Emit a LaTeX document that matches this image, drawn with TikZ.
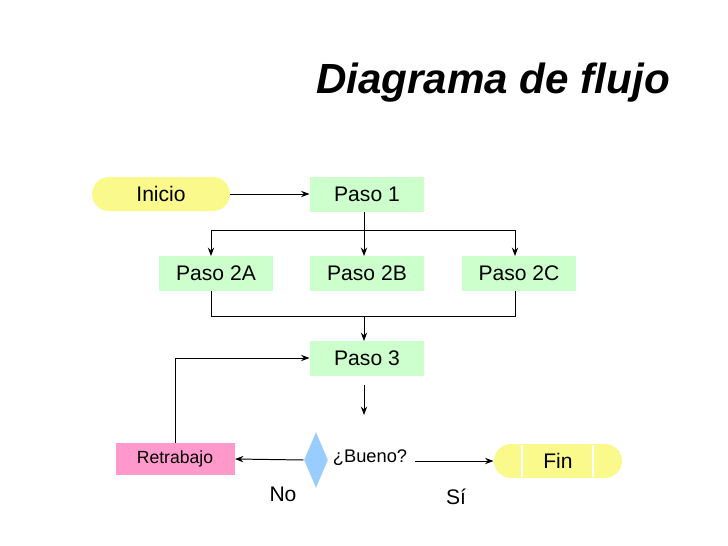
\documentclass[tikz,border=0pt]{standalone}
\usepackage{fontspec}
\setmainfont{Liberation Sans}
\usetikzlibrary{shapes.geometric,arrows.meta}
\definecolor{pill}{HTML}{FAFA8C}
\definecolor{step}{HTML}{CCFFCC}
\definecolor{rework}{HTML}{FF99CC}
\definecolor{ask}{HTML}{99CCFF}
\newlength{\px}
\setlength{\px}{0.05cm}
\tikzset{
  paso/.style={fill=step,minimum width=114\px,minimum height=35\px,inner sep=0pt,font=\fontsize{30}{34}\selectfont},
  terminal/.style={fill=pill,rounded corners=17\px,minimum width=138\px,minimum height=34\px,inner sep=0pt,font=\fontsize{30}{34}\selectfont},
  flecha/.style={-{Stealth[length=12pt,width=9pt]}},
}
\begin{document}
\begin{tikzpicture}[x=0.05cm,y=-0.05cm,line width=1.4pt]
  \useasboundingbox (0,0) rectangle (728,546);
  \node[font=\fontsize{60}{66}\selectfont\bfseries\itshape] (titulo) at (493,83) {Diagrama de flujo};

  \node[terminal] (inicio) at (161,194) {Inicio};
  \node[paso] (p1) at (367,194) {Paso 1};
  \node[paso] (p2a) at (216,273) {Paso 2A};
  \node[paso] (p2b) at (367,273) {Paso 2B};
  \node[paso] (p2c) at (519,273) {Paso 2C};
  \node[paso] (p3) at (367,358) {Paso 3};
  \node[fill=rework,minimum width=119\px,minimum height=32\px,inner sep=0pt,font=\fontsize{25}{28}\selectfont] (retrabajo) at (175,459) {Retrabajo};
  \node[diamond,fill=ask,minimum width=24\px,minimum height=56\px,inner sep=0pt,aspect=0.43] (rombo) at (316,460) {};
  \node[font=\fontsize{26}{30}\selectfont] (bueno) at (370,458) {¿Bueno?};
  \node[terminal,minimum width=128\px] (fin) at (558,461) {Fin};
  \draw[white,line width=2pt] (522,445) -- (522,477) (593,445) -- (593,477);
  \node[font=\fontsize{30}{34}\selectfont] (no) at (283,494) {No};
  \node[font=\fontsize{30}{34}\selectfont] (si) at (456,497) {Sí};

  \coordinate (rama) at (364,230);
  \coordinate (junta) at (364,316);
  \coordinate (baja) at (364,385);
  \coordinate (salida) at (415,461);

  \draw[flecha] (inicio) -- (p1);
  \draw (364,212) -- (rama);
  \draw (211,230) -- (515,230);
  \draw[flecha] (211,230) -- (211,256);
  \draw[flecha] (rama) -- (364,256);
  \draw[flecha] (515,230) -- (515,256);
  \draw (211,291) -- (211,316) -- (515,316) -- (515,291);
  \draw[flecha] (junta) -- (364,341);
  \draw[flecha] (baja) -- (364,415);
  \draw[flecha] (retrabajo.north) -- (175,358) -- (p3.west);
  \draw[flecha] (rombo.west) -- (retrabajo.east);
  \draw[flecha] (salida) -- (fin.west);
\end{tikzpicture}
\end{document}
